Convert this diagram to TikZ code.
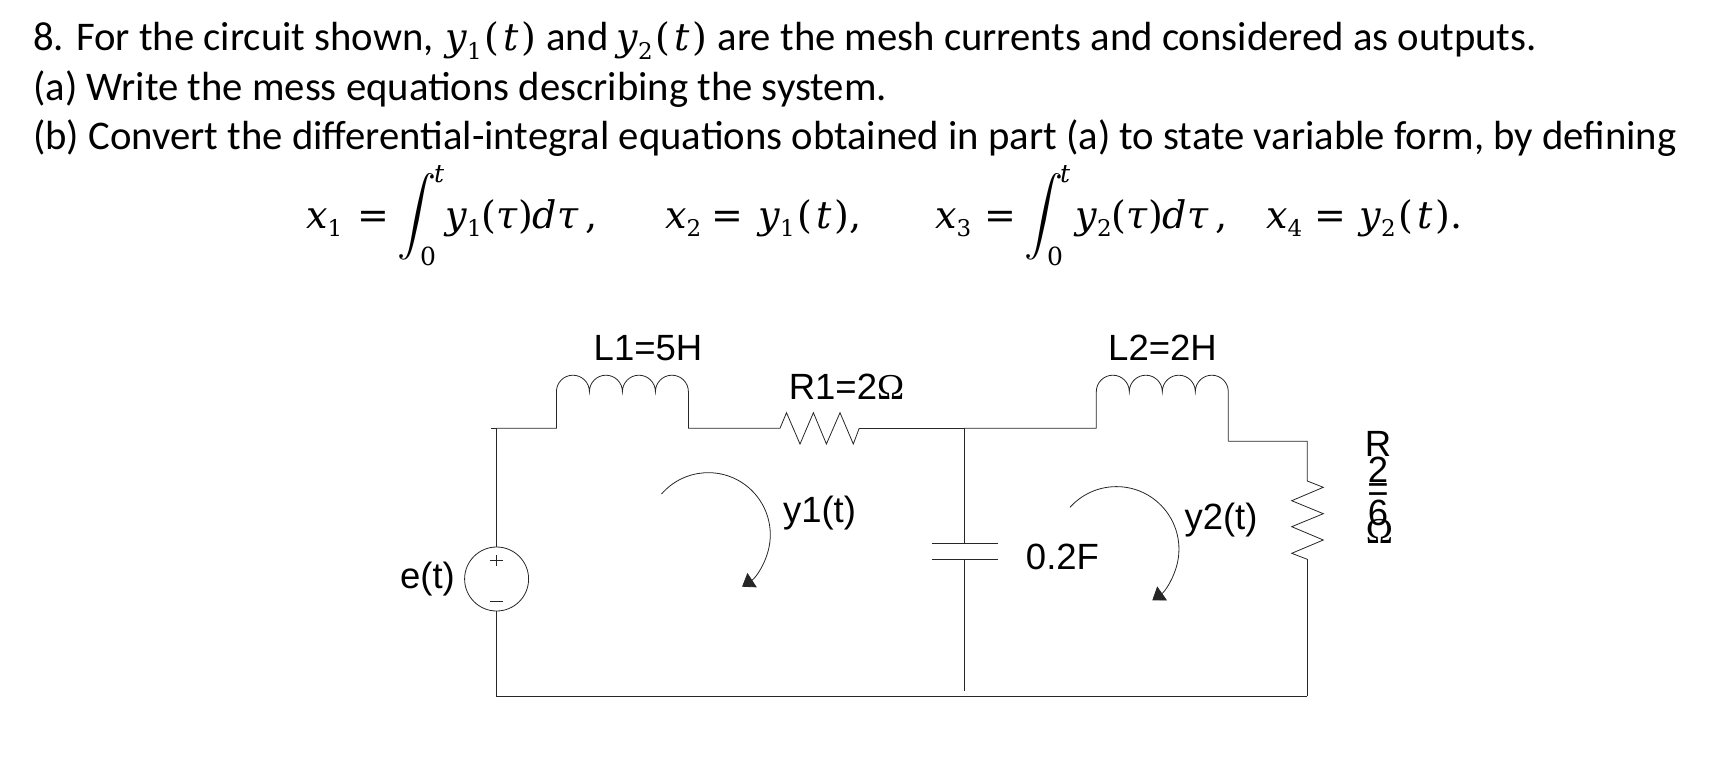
\documentclass[tikz,border=0pt]{standalone}
\usepackage{fontspec}
\setmainfont{Carlito}
\newfontfamily\labelfont{Liberation Sans}
\newfontfamily\symbfont{Liberation Serif}
\newfontfamily\mathsfont{DejaVu Serif}
\usetikzlibrary{arrows.meta}
\newcommand{\lowdigit}[1]{\raisebox{-8.5pt}{\fontsize{23}{23}\selectfont #1}}
\newcommand{\varit}[1]{\textit{#1}}
\newcommand{\argt}{\kern3pt(\kern3.5pt\varit{t}\kern3.5pt)}
\tikzset{
    wire/.style = {draw = black!85, line width = 0.8pt},
    headline/.style = {anchor = base west, inner sep = 0pt, font = \fontsize{40.7}{48}\selectfont},
    formula/.style = {anchor = base west, inner sep = 0pt, font = \mathsfont\fontsize{38}{46}\selectfont},
    limit/.style = {anchor = base west, inner sep = 0pt, font = \mathsfont\fontsize{25}{30}\selectfont},
    integralsign/.style = {inner sep = 0pt, scale = 3.9},
    partlabel/.style = {anchor = base, inner sep = 0pt, font = \labelfont\fontsize{36.5}{40}\selectfont},
    loopcurrent/.style = {wire, -{Triangle[length=12pt,width=17pt]}}
}
\begin{document}
\begin{tikzpicture}[x = 1pt, y = -1pt]
            \useasboundingbox (0,0) rectangle (1732,784);
            % question text
            \node[headline] (lineone) at (33,51) {8. For the circuit shown,};
            \node[formula] (yonehead) at (445,51) {\varit{y}\lowdigit{1}\argt};
            \node[headline] (andword) at (546,51) {and};
            \node[formula] (ytwohead) at (616,51) {\varit{y}\lowdigit{2}\argt};
            \node[headline] (restone) at (717.6,51) {are the mesh currents and considered as outputs.};
            \node[headline] (linetwo) at (33,100) {(a) Write the mess equations describing the system.};
            \node[headline] (linethree) at (33,149) {(b) Convert the differential-integral equations obtained in part (a) to state variable form, by defining};
            % definitions
            \node[formula] (xone) at (306,228) {\varit{x}\lowdigit{1}};
            \node[formula] (eqone) at (357,228) {=};
            \node[integralsign] (intone) at (416.5,216.5) {$\displaystyle\int$};
            \node[limit] (upone) at (434,182) {\varit{t}};
            \node[limit] (lowone) at (420,265) {0};
            \node[formula] (bodyone) at (445,228) {\varit{y}\lowdigit{1}(\varit{τ})\varit{dτ}\,,};
            \node[formula] (xtwo) at (665,228) {\varit{x}\lowdigit{2}};
            \node[formula] (eqtwo) at (711,228) {=};
            \node[formula] (bodytwo) at (758,228) {\varit{y}\lowdigit{1}\argt,};
            \node[formula] (xthree) at (935,228) {\varit{x}\lowdigit{3}};
            \node[formula] (eqthree) at (984,228) {=};
            \node[integralsign] (inttwo) at (1044,216.5) {$\displaystyle\int$};
            \node[limit] (uptwo) at (1060,182) {\varit{t}};
            \node[limit] (lowtwo) at (1047,265) {0};
            \node[formula] (bodythree) at (1075,228) {\varit{y}\lowdigit{2}(\varit{τ})\varit{dτ}\,,};
            \node[formula] (xfour) at (1266,228) {\varit{x}\lowdigit{4}};
            \node[formula] (eqfour) at (1314,228) {=};
            \node[formula] (bodyfour) at (1359,228) {\varit{y}\lowdigit{2}\argt.};
            % corners of the circuit
            \coordinate (topleft) at (496.6,428.3);
            \coordinate (stubleft) at (490.7,428.3);
            \coordinate (botleft) at (496.6,696);
            \coordinate (botright) at (1307.3,696);
            \coordinate (capjoin) at (964.3,428.3);
            \coordinate (capbot) at (964.3,690.7);
            % source
            \node[wire, circle, minimum size = 64pt, inner sep = 0pt] (source) at (496.6,579) {};
            \draw[wire] (489.8,560.7) -- (503.4,560.7);
            \draw[wire] (496.6,555.2) -- (496.6,566.2);
            \draw[wire] (489.8,601.7) -- (503.4,601.7);
            \draw[wire] (source.north) -- (topleft) -- (stubleft);
            \draw[wire] (source.south) -- (botleft) -- (botright);
            % first inductor
            \coordinate (Lonein) at (556.4,428.3);
            \coordinate (Loneout) at (688.4,428.3);
            \draw[wire] (topleft) -- (Lonein) -- (556.4,391.7)
                arc (180:360:16.5) arc (180:360:16.5) arc (180:360:16.5) arc (180:360:16.5) -- (Loneout);
            % first resistor
            \coordinate (Ronein) at (780,428.3);
            \coordinate (Roneout) at (859.2,428.3);
            \draw[wire] (Loneout) -- (Ronein) -- (786.5,412.7) -- (800,444) -- (813.4,412.7) -- (826.4,444) -- (840,412.7) -- (853.3,444) -- (Roneout);
            \draw[wire] (Roneout) -- (capjoin);
            % capacitor
            \coordinate (capupper) at (964.3,543);
            \coordinate (caplower) at (964.3,559.3);
            \draw[wire] (capjoin) -- (capupper);
            \draw[wire] (931.6,543) -- (997.7,543);
            \draw[wire] (931.6,559.3) -- (997.7,559.3);
            \draw[wire] (caplower) -- (capbot);
            % second inductor
            \coordinate (Ltwoin) at (1096.3,428.3);
            \coordinate (Ltwoout) at (1228.3,441.3);
            \draw[wire] (capjoin) -- (Ltwoin) -- (1096.3,391.7)
                arc (180:360:16.5) arc (180:360:16.5) arc (180:360:16.5) arc (180:360:16.5) -- (Ltwoout);
            % second resistor
            \coordinate (Rtwoin) at (1307.3,481);
            \coordinate (Rtwoout) at (1307.3,559.3);
            \draw[wire] (Ltwoout) -- (1307.3,441.3) -- (Rtwoin) -- (1323.3,487.3) -- (1291.7,500.7) -- (1323.3,513.7) -- (1291.7,526.7) -- (1323.3,540) -- (1291.7,553.3) -- (Rtwoout);
            \draw[wire] (Rtwoout) -- (botright);
            % mesh currents
            \draw[loopcurrent] (661.5,494) arc (-139:57:62);
            \draw[loopcurrent] (1070,507.3) arc (-138:55:62.5);
            % labels
            \node[partlabel] (Lonelabel) at (648,360) {L1=5H};
            \node[partlabel] (Ronelabel) at (846.5,399) {R1=2{\symbfont Ω}};
            \node[partlabel] (Ltwolabel) at (1162.5,360) {L2=2H};
            \node[partlabel] (emflabel) at (427.5,588) {e(t)};
            \node[partlabel] (yonelabel) at (819.5,522) {y1(t)};
            \node[partlabel] (ytwolabel) at (1221,529) {y2(t)};
            \node[partlabel] (caplabel) at (1062.5,569) {0.2F};
            \node[partlabel] (Rtwolabel) at (1378,456) {R};
            \node[partlabel] (Rtwotwo) at (1378,482.7) {2};
            \node[partlabel] (Rtwoeq) at (1378,501) {=};
            \node[partlabel] (Rtwosix) at (1378,525) {6};
            \node[partlabel] (Rtwoohm) at (1379.5,543) {\symbfont Ω};
\end{tikzpicture}
\end{document}
